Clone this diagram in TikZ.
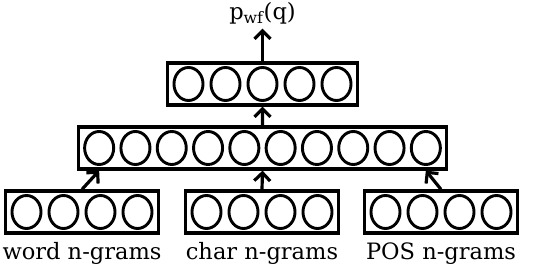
\documentclass[tikz,border=0pt]{standalone}
\usepackage{fontspec}
\setmainfont{DejaVu Serif}
\usetikzlibrary{arrows.meta,positioning,fit,shapes.geometric}

\tikzset{
	unit/.style={draw, ellipse, line width=2.2pt, minimum width=0.77cm, minimum height=0.875cm, inner sep=0pt},
	layer/.style={draw, line width=2.5pt, inner xsep=0.13cm, inner ysep=0.08cm},
	feed/.style={-{Straight Barb[length=6pt,width=12pt]}, line width=2.4pt},
	gram/.style={inner sep=0pt, below=0.2cm of #1},
}

\begin{document}
\begin{tikzpicture}[x=0.0265cm, y=-0.0265cm, font=\fontsize{17}{20}\selectfont]
		\useasboundingbox (0,0) rectangle (542,271);
		% output layer
		\foreach \i in {1,...,5}
			\node[unit] (out-\i) at ({262.5+(\i-3)*37}, 84) {};
		\node[layer, fit=(out-1)(out-5)] (out) {};
		\node (prob) at (262.5, 13) {p\textsubscript{wf}(q)};
		% hidden layer
		\foreach \i in {1,...,10}
			\node[unit] (hid-\i) at ({262.5+(\i-5.5)*36.3}, 148) {};
		\node[layer, fit=(hid-1)(hid-10)] (hid) {};
		% input layers
		\foreach \name/\cx in {word/82, char/262, pos/441} {
			\foreach \i in {1,...,4}
				\node[unit] (\name-\i) at ({\cx+(\i-2.5)*37}, 212) {};
			\node[layer, fit=(\name-1)(\name-4)] (\name) {};
		}
		\node[gram=word] (wordlbl) {word n-grams};
		\node[gram=char] (charlbl) {char n-grams};
		\node[gram=pos] (poslbl) {POS n-grams};

		\draw[feed] (word.north) -- (hid-1 |- hid.south);
		\draw[feed] (char.north) -- (hid.south);
		\draw[feed] (pos.north) -- (hid-10 |- hid.south);
		\draw[feed] (hid.north) -- (out.south);
		\draw[feed] (out.north) -- (prob.south);
	\end{tikzpicture}
\end{document}
